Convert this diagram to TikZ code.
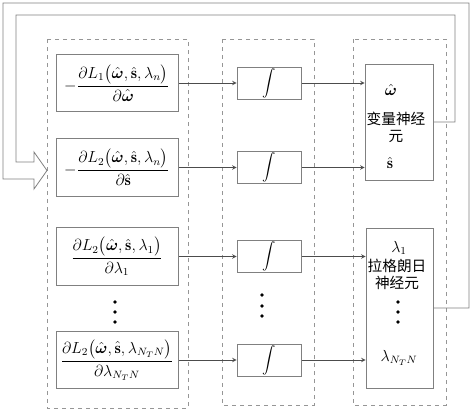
\documentclass[tikz,border=0pt]{standalone}
\usepackage{amsmath,amssymb}
\usepackage{fontspec}
\newfontfamily\cjk{Noto Sans CJK SC}
\usepackage{tikz}
\usetikzlibrary{backgrounds}
\definecolor{lgray}{RGB}{128,128,128}
\definecolor{dgray}{RGB}{150,150,150}
\tikzstyle{funcbox}=[rectangle,draw=lgray,line width=0.6,minimum width=91.5pt,minimum height=43pt,inner sep=0pt,font=\large]
\tikzstyle{intbox}=[rectangle,draw=lgray,line width=0.6,minimum width=48pt,minimum height=24pt,inner sep=0pt]
\tikzstyle{neuron}=[rectangle,draw=lgray,line width=0.6,inner sep=0pt]
\tikzstyle{group}=[draw=dgray,dashed,line width=0.5]
\tikzstyle{empty}=[inner sep=0pt,font=\large]
\tikzstyle{cjktext}=[inner sep=0pt,font=\fontsize{11}{13}\selectfont\cjk]
\tikzstyle{dots}=[circle,fill=black,inner sep=0pt,minimum size=2.8pt]
\tikzstyle{inarrow}=[->,>=stealth,draw=black!70,line width=0.5]
\tikzstyle{feed}=[-,draw=lgray,line width=0.6]
\pgfdeclarelayer{edgelayer}
\pgfdeclarelayer{nodelayer}
\pgfsetlayers{edgelayer,nodelayer,main}
\newcommand{\vw}{\hat{\boldsymbol{\omega}}}
\newcommand{\vs}{\hat{\mathbf{s}}}
\begin{document}
\begin{tikzpicture}[x=0.75pt,y=-0.75pt]
	\useasboundingbox (0,0) rectangle (474,411);
	\begin{pgfonlayer}{nodelayer}
		% gradient blocks
		\node [style=funcbox] (f1) at (117,83) {$-\dfrac{\partial L_1\bigl(\vw,\vs,\lambda_n\bigr)}{\partial\vw}$};
		\node [style=funcbox] (f2) at (117,167.5) {$-\dfrac{\partial L_2\bigl(\vw,\vs,\lambda_n\bigr)}{\partial\vs}$};
		\node [style=funcbox] (f3) at (117,256.5) {$\dfrac{\partial L_2\bigl(\vw,\vs,\lambda_1\bigr)}{\partial\lambda_1}$};
		\node [style=funcbox] (f4) at (117,360) {$\dfrac{\partial L_2\bigl(\vw,\vs,\lambda_{N_T N}\bigr)}{\partial\lambda_{N_T N}}$};
		\node [style=dots] (fd1) at (115,302) {};
		\node [style=dots] (fd2) at (115,312) {};
		\node [style=dots] (fd3) at (115,322) {};
		% integrators
		\node [style=intbox] (i1) at (269,83) {$\displaystyle\int$};
		\node [style=intbox] (i2) at (269,167.5) {$\displaystyle\int$};
		\node [style=intbox] (i3) at (269,256.5) {$\displaystyle\int$};
		\node [style=intbox] (i4) at (269,360) {$\displaystyle\int$};
		\node [style=dots] (id1) at (262,295) {};
		\node [style=dots] (id2) at (262,306) {};
		\node [style=dots] (id3) at (262,316) {};
		% neurons
		\node [style=neuron,minimum width=51pt,minimum height=87pt] (v) at (399,122) {};
		\node [style=neuron,minimum width=50.25pt,minimum height=120pt] (l) at (399.5,308) {};
		\node [style=empty] (vw) at (391,90) {$\vw$};
		\node [style=cjktext] (vt1) at (396,119) {变量神经};
		\node [style=cjktext] (vt2) at (396,136) {元};
		\node [style=empty] (vs) at (390,163) {$\vs$};
		\node [style=empty] (l1) at (399,248) {$\lambda_1$};
		\node [style=cjktext] (lt1) at (397,266) {拉格朗日};
		\node [style=cjktext] (lt2) at (397,283) {神经元};
		\node [style=dots] (ld1) at (398,302) {};
		\node [style=dots] (ld2) at (398,312) {};
		\node [style=dots] (ld3) at (398,322) {};
		\node [style=empty] (ln) at (399,358) {$\lambda_{N_T N}$};
		% feedback corners
		\coordinate (a1) at (455,122);
		\coordinate (a2) at (455,15);
		\coordinate (a3) at (16,15);
		\coordinate (a4) at (16,162);
		\coordinate (b1) at (469,308);
		\coordinate (b2) at (469,3);
		\coordinate (b3) at (3,3);
		\coordinate (b4) at (3,179);
		\coordinate (h1) at (34,162);
		\coordinate (h2) at (34,152);
		\coordinate (tip) at (47,170.5);
		\coordinate (h3) at (34,189);
		\coordinate (h4) at (34,179);
	\end{pgfonlayer}
	\begin{pgfonlayer}{edgelayer}
		\draw [style=group] (47,39) rectangle (188,408);
		\draw [style=group] (222,39) rectangle (314,405);
		\draw [style=group] (353,39) rectangle (446,405);
		\draw [style=inarrow] (f1) to (i1);
		\draw [style=inarrow] (f2) to (i2);
		\draw [style=inarrow] (f3) to (i3);
		\draw [style=inarrow] (f4) to (i4);
		\draw [style=inarrow] (i1.east) to (i1.east -| v.west);
		\draw [style=inarrow] (i2.east) to (i2.east -| v.west);
		\draw [style=inarrow] (i3.east) to (i3.east -| l.west);
		\draw [style=inarrow] (i4.east) to (i4.east -| l.west);
		\draw [style=feed] (v.east) -- (a1) -- (a2) -- (a3) -- (a4) -- (h1) -- (h2) -- (tip) -- (h3) -- (h4) -- (b4) -- (b3) -- (b2) -- (b1) -- (l.east);
	\end{pgfonlayer}
\end{tikzpicture}
\end{document}
